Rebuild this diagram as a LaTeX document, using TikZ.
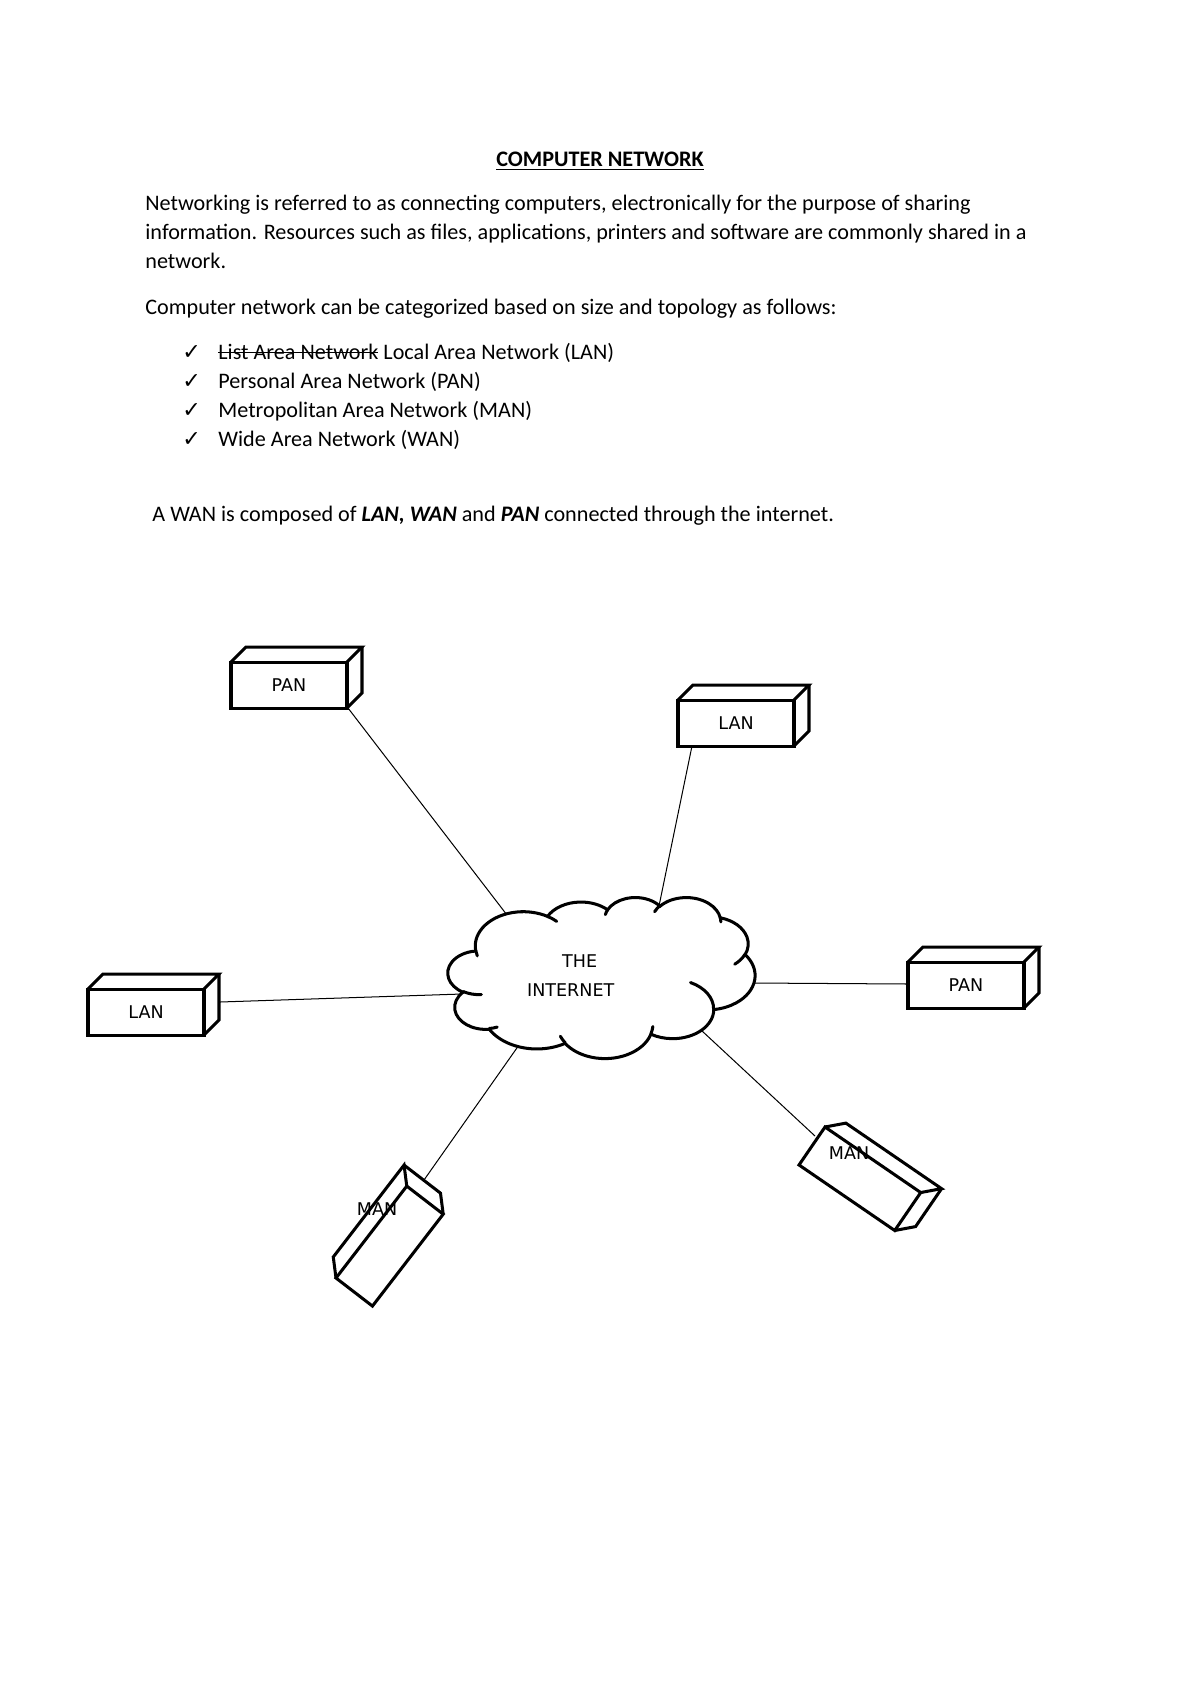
\documentclass[tikz,border=0pt]{standalone}
\usepackage{fontspec}
\setmainfont{Carlito}
\newfontfamily\lblfont{DejaVu Sans}
\newfontfamily\symfont{DejaVu Sans}
\newcommand\mystrike[1]{\setbox0\hbox{#1}\rlap{\rule[0.27em]{\wd0}{0.5pt}}\box0\relax}
\tikzset{
  txt/.style={anchor=base west, inner sep=0pt, font=\fontsize{11}{13}\selectfont},
  boxline/.style={line width=1.5pt, line join=miter},
  cloudline/.style={line width=1.5pt, line cap=round},
  link/.style={line width=0.5pt},
  lbl/.style={font=\lblfont\fontsize{8.7}{10}\selectfont, inner sep=0pt},
  oo/.style n args={4}{x radius=#1, y radius=#2,
    start angle={atan2(#1*sin(#3),#2*cos(#3))},
    delta angle={mod(atan2(#1*sin(#3+#4),#2*cos(#3+#4))-atan2(#1*sin(#3),#2*cos(#3))+720,360)}},
  netbox/.pic={
    \draw[boxline] (0,0) rectangle (116,46);
    \draw[boxline] (0,0) -- (15,-15) -- (131,-15) -- (116,0);
    \draw[boxline] (131,-15) -- (131,31) -- (116,46);
  }
}
\begin{document}
\begin{tikzpicture}[x=0.49608pt, y=-0.49608pt]
\useasboundingbox (0,0) rectangle (1200,1696);
\fill[white] (0,0) rectangle (1200,1696);

% ---- text ----
\node[txt, anchor=base] (title) at (600,166) {\textbf{\underline{COMPUTER NETWORK}}};
\node[txt] (p1) at (145,210) {Networking is referred to as connecting computers, electronically for the purpose of sharing};
\node[txt] (p2) at (145,239.2) {information. Resources such as files, applications, printers and software are commonly shared in a};
\node[txt] (p3) at (145,268.4) {network.};
\node[txt] (p4) at (145,314) {Computer network can be categorized based on size and topology as follows:};
\foreach \yy/\nm in {359/c1,388.2/c2,417.4/c3,446.6/c4}{
  \node[txt] (\nm) at (182,\yy) {\symfont ✓};
}
\node[txt] (l1) at (218,359) {\mystrike{List Area Network} Local Area Network (LAN)};
\node[txt] (l2) at (218,388.2) {Personal Area Network (PAN)};
\node[txt] (l3) at (218,417.4) {Metropolitan Area Network (MAN)};
\node[txt] (l4) at (218,446.6) {Wide Area Network (WAN)};
\node[txt] (wan) at (152,521) {A WAN is composed of \textbf{\textit{LAN, WAN}} and \textbf{\textit{PAN}} connected through the internet.};

% ---- boxes ----
\pic at (231,662) {netbox};
\pic at (678,700) {netbox};
\pic at (88,989) {netbox};
\pic at (908,962) {netbox};
\pic[rotate=52.4] at (336,1278) {netbox};
\pic[rotate=-34.4] at (825,1127) {netbox};

% connection points
\coordinate (pan1c) at (348,708);
\coordinate (lan1c) at (692,746);
\coordinate (lan2c) at (220,1002);
\coordinate (pan2c) at (908,984);
\coordinate (man1c) at (424,1180);
\coordinate (man2c) at (815,1136);
\coordinate (cpan1) at (507,915);
\coordinate (clan1) at (659,906);
\coordinate (clan2) at (462,994);
\coordinate (cpan2) at (752,983);
\coordinate (cman1) at (519,1045);
\coordinate (cman2) at (701,1030);

\draw[link] (pan1c) -- (cpan1);
\draw[link] (lan1c) -- (clan1);
\draw[link] (lan2c) -- (clan2);
\draw[link] (pan2c) -- (cpan2);
\draw[link] (man1c) -- (cman1);
\draw[link] (man2c) -- (cman2);

% ---- cloud ----
\begin{scope}[shift={(448,897)}, xscale=7.106, yscale=3.727]
\draw[cloudline, fill=white] (3.900,14.370)
 arc[oo={6.753}{9.190}{-190.4875}{123.7805}]
 arc[oo={5.333}{7.267}{-144.1024}{89.9452}]
 arc[oo={4.365}{5.945}{-145.8079}{99.7230}]
 arc[oo={4.857}{6.595}{-130.9861}{117.2417}]
 arc[oo={5.333}{7.273}{-78.7089}{109.0269}]
 arc[oo={6.775}{9.220}{-46.2673}{130.2690}]
 arc[oo={5.785}{7.867}{0.6250}{114.0333}]
 arc[oo={6.752}{9.215}{22.4516}{115.1726}]
 arc[oo={7.720}{10.543}{66.2426}{75.7110}]
 arc[oo={4.360}{5.918}{-274.9421}{146.7356}]
 arc[oo={4.345}{5.945}{-246.8285}{152.5189}] -- cycle;
\draw[cloudline] (4.693,26.177) arc[oo={4.345}{5.945}{86.7420}{26.4295}];
\draw[cloudline] (6.928,34.899) arc[oo={4.360}{5.918}{73.6105}{11.4475}];
\draw[cloudline] (16.478,39.090) arc[oo={6.752}{9.215}{137.6242}{14.0811}];
\draw[cloudline] (28.827,34.751) arc[oo={6.752}{9.215}{6.4533}{15.9984}];
\draw[cloudline] (34.129,22.954) arc[oo={5.785}{7.867}{-70.2924}{70.9174}];
\draw[cloudline] (41.798,15.354) arc[oo={5.333}{7.273}{30.3180}{27.7515}];
\draw[cloudline] (38.324,5.426) arc[oo={4.857}{6.595}{-13.7443}{14.8589}];
\draw[cloudline] (29.078,3.952) arc[oo={4.857}{6.595}{-149.1815}{18.1954}];
\draw[cloudline] (22.141,4.720) arc[oo={4.365}{5.945}{-163.4943}{17.6864}];
\draw[cloudline] (14.000,5.192) arc[oo={6.753}{9.190}{-66.7070}{12.3194}];
\draw[cloudline] (4.127,15.789) arc[oo={6.753}{9.190}{157.6544}{11.8582}];
\end{scope}
\node[lbl, anchor=base west] (inet1) at (561.7,967) {THE};
\node[lbl, anchor=base west] (inet2) at (526.7,996.7) {INTERNET};

% ---- labels ----
\node[lbl] (pan1) at (289,685) {PAN};
\node[lbl] (lan1) at (736,723) {LAN};
\node[lbl] (lan2) at (146,1012) {LAN};
\node[lbl] (pan2) at (966,985) {PAN};
\node[lbl] (man1) at (377,1209) {MAN};
\node[lbl] (man2) at (849,1153) {MAN};
\end{tikzpicture}
\end{document}
